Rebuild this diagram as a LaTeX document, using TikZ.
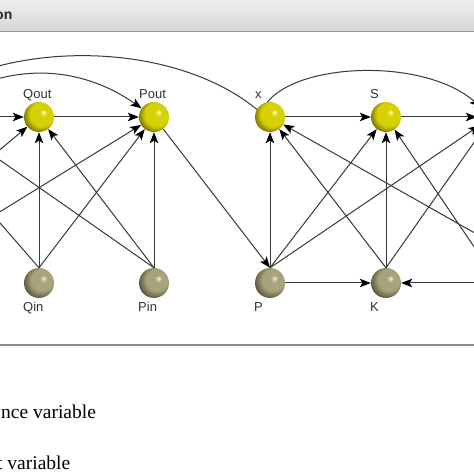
\documentclass[tikz,border=0pt]{standalone}
\usepackage{fontspec}
\setmainfont{Liberation Serif}
\newfontfamily\labfont{Liberation Sans}
\usetikzlibrary{arrows.meta}
\definecolor{yh}{rgb}{1,1,0.70}
\definecolor{ym}{rgb}{0.84,0.82,0.02}
\definecolor{yd}{rgb}{0.30,0.29,0.0}
\definecolor{bh}{rgb}{0.95,0.94,0.80}
\definecolor{bm}{rgb}{0.66,0.64,0.48}
\definecolor{bd}{rgb}{0.22,0.22,0.16}
\definecolor{barTop}{rgb}{0.93,0.93,0.93}
\definecolor{barBot}{rgb}{0.84,0.84,0.84}
\pgfdeclareradialshading{ysph}{\pgfpoint{8bp}{8bp}}{color(0bp)=(yh); color(6bp)=(ym); color(20bp)=(ym); color(34bp)=(yd); color(42bp)=(black); color(50bp)=(black)}
\pgfdeclareradialshading{bsph}{\pgfpoint{8bp}{8bp}}{color(0bp)=(bh); color(6bp)=(bm); color(18bp)=(bm); color(34bp)=(bd); color(42bp)=(black); color(50bp)=(black)}
\begin{document}
\begin{tikzpicture}[x=1pt,y=1pt,
  sph/.style={circle,minimum size=30pt,inner sep=0pt},
  topball/.style={sph,shading=ysph},
  botball/.style={sph,shading=bsph},
  lab/.style={anchor=base west,inner sep=0pt,text=black!80,font=\fontsize{13}{13}\selectfont\labfont},
  plain/.style={draw=black!78,line width=1pt},
  edge/.style={plain,-{Stealth[length=11pt,width=8.5pt,inset=2.6pt,color=black]}},
  caption/.style={anchor=base west,inner sep=0pt,font=\fontsize{19.5}{19.5}\selectfont}]
\useasboundingbox (0,0) rectangle (474,474);
\fill[white] (0,0) rectangle (474,474);
% header bar
\shade[top color=barTop,bottom color=barBot] (0,442) rectangle (474,474);
\draw[black!40,line width=1pt] (0,442) -- (474,442);
\node[anchor=base west,inner sep=0pt,text=black!85,font=\fontsize{14}{14}\selectfont\labfont\bfseries] (title) at (-5,454) {on};
% frame bottom
\draw[black!45,line width=1.3pt] (0,129) -- (474,129);
% nodes
\node[topball] (Qout) at (39,357) {};
\node[topball] (Pout) at (154,357) {};
\node[topball] (X) at (270,357) {};
\node[topball] (S) at (386,357) {};
\node[botball] (Qin) at (39,191) {};
\node[botball] (Pin) at (154,191) {};
\node[botball] (P) at (270,191) {};
\node[botball] (K) at (386,191) {};
\node[topball] (QL) at (-77,357) {};
\node[topball] (R) at (492,357) {};
\node[botball] (RB) at (492,191) {};
\coordinate (lb) at (-60,274);
\coordinate (lc) at (-46,346);
\coordinate (ld) at (-46,234);
\coordinate (le) at (-20,274);
\coordinate (farL) at (-110,344);
\coordinate (rb1) at (510,221);
\coordinate (rb2) at (500,189);
% labels
\node[lab] (lQout) at (23,375) {Qout};
\node[lab] (lPout) at (139,375) {Pout};
\node[lab] (lX) at (255,375) {x};
\node[lab] (lS) at (370,375) {S};
\node[lab] (lQin) at (23,162.5) {Qin};
\node[lab] (lPin) at (138,162.5) {Pin};
\node[lab] (lP) at (254,162.5) {P};
\node[lab] (lK) at (370,162.5) {K};
% edges
\draw[edge] (QL) -- (Qout);
\draw[edge] (lb) -- (Qout);
\draw[edge] (Qin.north) -- (Qout);
\draw[edge] (Pin.north) -- (Qout);
\draw[edge] (Qout) -- (Pout);
\draw[edge] (QL) to[bend left=35] (Pout);
\draw[plain] (X.150) .. controls (160,444) and (-40,434) .. (farL);
\draw[edge] (ld) -- (Pout);
\draw[edge] (Qin.north) -- (Pout);
\draw[edge] (Pin.north) -- (Pout);
\draw[plain] (Pin.north) -- (lc);
\draw[plain] (Qin.north) -- (le);
\draw[edge] (Pout) -- (P.north);
\draw[edge] (P.north) -- (X);
\draw[edge] (K.north) -- (X);
\draw[edge] (rb1) -- (X);
\draw[edge] (X) -- (S);
\draw[edge] (X.100) .. controls (300,412) and (425,416) .. (R);
\draw[edge] (P.north) -- (S);
\draw[edge] (K.north) -- (S);
\draw[edge] (rb2) -- (S);
\draw[edge] (S) -- (R);
\draw[edge] (P.north) -- (R);
\draw[edge] (K.north) -- (R);
\draw[edge] (P) -- (K);
\draw[edge] (RB) -- (K);
% captions
\node[caption] (cap1) at (1,55) {nce variable};
\node[caption] (cap2) at (-3,4.5) {t variable};
\end{tikzpicture}
\end{document}
